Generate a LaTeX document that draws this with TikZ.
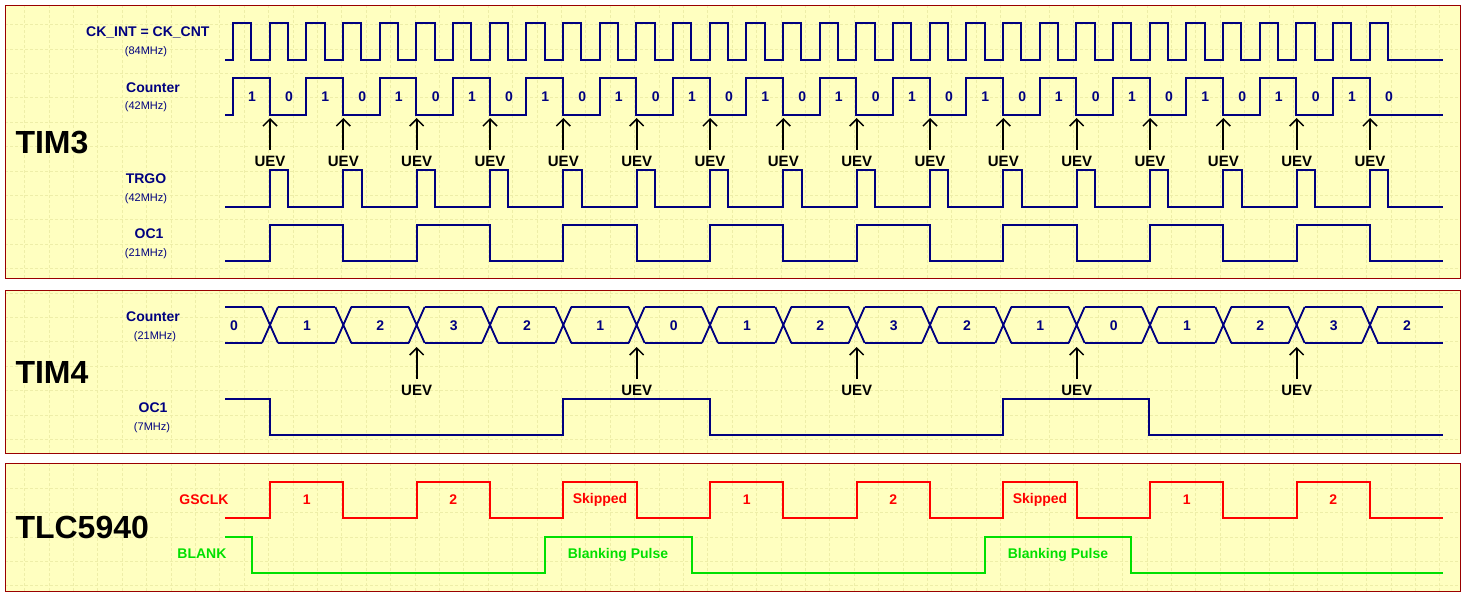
\documentclass[tikz,border=0pt]{standalone}
\usepackage{fontspec}
\setmainfont{Liberation Sans}
\usetikzlibrary{arrows.meta}
\definecolor{navy}{HTML}{000080}
\definecolor{bg}{HTML}{FFFFC0}
\definecolor{frame}{HTML}{990000}
\definecolor{gridc}{HTML}{EEEEA8}
\definecolor{grn}{HTML}{00E000}
\tikzset{
 panel/.style={draw=frame,fill=bg,line width=1pt},
 wave/.style={navy,line width=2pt,line join=miter},
 rwave/.style={red,line width=2pt},
 gwave/.style={grn,line width=2pt},
 nm/.style={navy,font=\fontsize{14}{14}\selectfont\bfseries},
 fq/.style={navy,font=\fontsize{11}{11}\selectfont},
 big/.style={font=\fontsize{32}{32}\selectfont\bfseries,anchor=west},
 val/.style={navy,font=\fontsize{14}{14}\selectfont\bfseries},
 uev/.style={font=\fontsize{15}{15}\selectfont\bfseries},
 uarr/.style={line width=1.8pt,-{Straight Barb[length=7pt,width=14pt,line width=1.5pt]}},
}
\begin{document}
\begin{tikzpicture}[x=1pt,y=-1pt]
\useasboundingbox (0,0) rectangle (1465,597);
\fill[white] (0,0) rectangle (1465,597);
% panels
\foreach \a/\b in {5/278,290/453,463/591}{
 \fill[bg] (5,\a) rectangle (1460,\b);
 \begin{scope}
 \clip (5,\a) rectangle (1460,\b);
 \foreach \gx in {0,24.4,...,1465} \draw[gridc,dash pattern=on 3pt off 2pt,line width=0.6pt] (\gx,\a)--(\gx,\b);
 \foreach \gy in {0,24.4,...,597} \draw[gridc,dash pattern=on 3pt off 2pt,line width=0.6pt] (5,\gy)--(1460,\gy);
 \end{scope}
 \draw[draw=frame,line width=1pt] (5,\a) rectangle (1460,\b);
}
% ---- TIM3
\node[big] (t3) at (12,143) {TIM3};
\node[nm,anchor=east] (ckl) at (213,32) {CK\_INT = CK\_CNT};
\node[fq] (ckf) at (146,52) {(84MHz)};
\node[nm] (cnl) at (153,88) {Counter};
\node[fq] (cnf) at (146,107) {(42MHz)};
\node[nm] (trl) at (146,179) {TRGO};
\node[fq] (trf) at (146,199) {(42MHz)};
\node[nm] (ocl) at (149,234) {OC1};
\node[fq] (ocf) at (146,254) {(21MHz)};
\draw[wave] (225,60) foreach \k in {0,...,31}{ -- ({233+\k*36.667},60) -- ++(0,-37) -- ++(18.33,0) -- ++(0,37)} -- (1443,60);
\draw[wave] (225,115) foreach \k in {0,...,15}{ -- ({233+\k*73.333},115) -- ++(0,-37) -- ++(36.67,0) -- ++(0,37)} -- (1443,115);
\foreach \k in {0,...,15}{
 \node[val] (c1\k) at ({252+\k*73.333},97) {1};
 \node[val] (c0\k) at ({289+\k*73.333},97) {0};
 \coordinate (ua\k) at ({270+\k*73.333},150);
 \coordinate (ub\k) at ({270+\k*73.333},118);
 \draw[uarr] (ua\k) -- (ub\k);
 \node[uev] (u\k) at ({270+\k*73.333},161) {UEV};
}
\draw[wave] (225,207) foreach \k in {0,...,15}{ -- ({270+\k*73.333},207) -- ++(0,-37) -- ++(18.33,0) -- ++(0,37)} -- (1443,207);
\draw[wave] (225,261) foreach \k in {0,2,...,14}{ -- ({270+\k*73.333},261) -- ++(0,-36) -- ++(73.33,0) -- ++(0,36)} -- (1443,261);
% ---- TIM4
\node[big] (t4) at (12,372) {TIM4};
\node[nm] (c4l) at (153,317) {Counter};
\node[fq] (c4f) at (155,337) {(21MHz)};
\node[nm] (o4l) at (153,408) {OC1};
\node[fq] (o4f) at (152,428) {(7MHz)};
\foreach \k in {0,...,15}{
 \pgfmathsetmacro\cx{270+\k*73.333}
 \draw[wave,line width=1.8pt] (\cx-8,307)--(\cx+8,343) (\cx-8,343)--(\cx+8,307);
}
\foreach \k in {0,...,14}{
 \pgfmathsetmacro\sa{278+\k*73.333}
 \pgfmathsetmacro\sb{262+(\k+1)*73.333}
 \draw[wave,line width=1.8pt] (\sa,307)--(\sb,307) (\sa,343)--(\sb,343);
}
\draw[wave,line width=1.8pt] (225,307)--(262,307) (225,343)--(262,343);
\draw[wave,line width=1.8pt] (1377.3,307)--(1443,307) (1377.3,343)--(1443,343);
\node[val] (v0) at (234,326) {0};
\foreach \v [count=\i from 0] in {1,2,3,2,1,0,1,2,3,2,1,0,1,2,3,2}{
 \node[val] (v\i x) at ({307+\i*73.333},326) {\v};
}
\foreach \k in {2,5,8,11,14}{
 \coordinate (wa\k) at ({270+\k*73.333},379);
 \coordinate (wb\k) at ({270+\k*73.333},347);
 \draw[uarr] (wa\k) -- (wb\k);
 \node[uev] (w\k) at ({270+\k*73.333},390) {UEV};
}
\draw[wave] (225,399) -- (270,399) -- (270,435) -- (563,435) -- (563,399) -- (710,399) -- (710,435) -- (1003,435) -- (1003,399) -- (1149,399) -- (1149,435) -- (1443,435);
% ---- TLC5940
\node[big] (t5) at (12,527) {TLC5940};
\node[nm,red,anchor=east] (gsl) at (232,500) {GSCLK};
\node[nm,grn,anchor=east] (bll) at (230,554) {BLANK};
\draw[rwave] (225,518) foreach \k in {0,2,...,14}{ -- ({270+\k*73.333},518) -- ++(0,-36) -- ++(73.33,0) -- ++(0,36)} -- (1443,518);
\foreach \t [count=\i from 0] in {1,2,Skipped,1,2,Skipped,1,2}{
 \node[nm,red] (g\i) at ({306.7+\i*146.667},500) {\t};
}
\draw[gwave] (225,537) -- (252,537) -- (252,573) -- (545,573) -- (545,537) -- (692,537) -- (692,573) -- (985,573) -- (985,537) -- (1131,537) -- (1131,573) -- (1443,573);
\node[nm,grn] (bp1) at (618,555) {Blanking Pulse};
\node[nm,grn] (bp2) at (1058,555) {Blanking Pulse};
\end{tikzpicture}
\end{document}
